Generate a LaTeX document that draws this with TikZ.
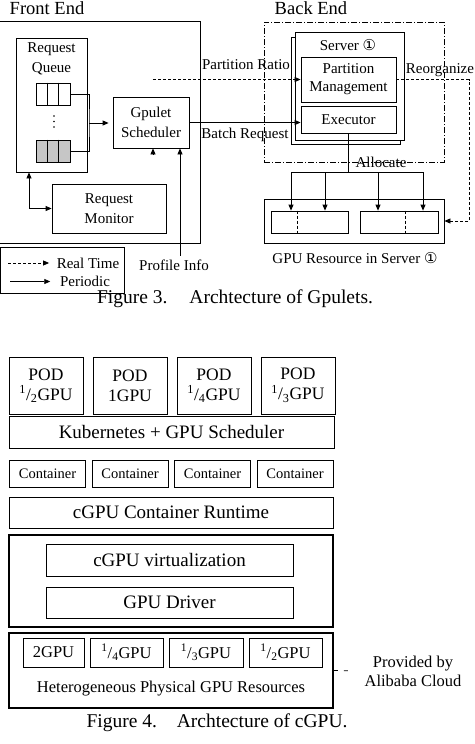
\documentclass[tikz,border=0pt]{standalone}
\usepackage{fontspec}
\setmainfont{Liberation Serif}
\newfontfamily\circfont{DejaVu Sans}
\usetikzlibrary{arrows.meta}
\newcommand{\srvone}{{\circfont\fontsize{15}{15}\selectfont\char"2460}}
\newcommand{\frc}[2]{\textsuperscript{#1}/\textsubscript{#2}}

\begin{document}
\begin{tikzpicture}[x=1pt,y=-1pt,line width=0.8pt,
    >={Triangle[length=6pt,width=5pt]},
    box/.style={draw,inner sep=0pt,align=center},
    f3/.style={font=\fontsize{15}{20}\selectfont},
    f4/.style={font=\fontsize{19}{22}\selectfont},
    rt/.style={dash pattern=on 3pt off 2pt},
    dashdot/.style={dash pattern=on 6pt off 2pt on 1pt off 2pt}]
    \fill[white] (0,0) rectangle (474,744);
    \useasboundingbox (0,0) rectangle (474,744);

    % Figure 3: front end
    \node[anchor=west,font=\fontsize{18.5}{20}\selectfont] (fetitle) at (6,8) {Front End};
    \node[box,minimum width=201,minimum height=222] (front) at (100,132) {};
    \node[box,minimum width=71,minimum height=134] (rq) at (51.5,105) {};
    \node[f3,align=center] (rqlbl) at (51.5,59) {Request\\Queue};
    \node[box,minimum width=34,minimum height=22] (qtop) at (53,94) {};
    \node[box,fill=gray!45,minimum width=34,minimum height=22] (qbot) at (53,151) {};
    \foreach \q in {qtop,qbot}
        \foreach \i in {1,2}
            \draw ([xshift=\i*11.33pt]\q.north west) -- ([xshift=\i*11.33pt]\q.south west);
    \foreach \y in {116,121.5,127}
        \fill (54,\y) circle (0.9pt);
    \coordinate (qjoin) at (89,123);
    \draw (qtop.east) -| (qjoin) |- (qbot.east);
    \node[box,f3,minimum width=76,minimum height=51] (sched) at (151,122.5) {Gpulet\\Scheduler};
    \draw[->,shorten >=4pt] (qjoin) -- (qjoin -| sched.west);
    \node[box,f3,minimum width=114,minimum height=49] (mon) at (109,208.5) {Request\\Monitor};
    \draw[<->] (rq.south -| 29,0) |- (mon.west);
    \coordinate (tick) at (153,155);
    \draw[->] (tick) -- (tick |- sched.south);
    \node[f3] (prof) at (174,265) {Profile Info};
    \draw[->] (prof.north -| 180,0) -- (sched.south -| 180,0);

    % legend
    \node[box,minimum width=124,minimum height=46] (legend) at (62,270) {};
    \node[f3] (rtlbl) at (88,263) {Real Time};
    \node[f3] (perlbl) at (85,281.5) {Periodic};
    \draw[rt,->,shorten >=4pt] (rtlbl.west -| 8,0) -- (rtlbl.west);
    \draw[->,shorten >=6pt] (perlbl.west -| 10,0) -- (perlbl.west);

    % Figure 3: back end
    \node[anchor=west,font=\fontsize{18.5}{20}\selectfont] (betitle) at (271,8) {Back End};
    \node[draw,dashdot,minimum width=180,minimum height=140] (backend) at (354,92) {};
    \node[box,minimum width=109,minimum height=107] (srvback) at (345.5,90.5) {};
    \node[box,fill=white,minimum width=109,minimum height=108] (srv) at (349.5,86) {};
    \node[f3] (srvlbl) at (348,45) {Server \srvone};
    \node[box,font=\fontsize{15}{18}\selectfont,minimum width=95,minimum height=45] (pm) at (348.5,79.5) {Partition\\Management};
    \node[box,f3,minimum width=95,minimum height=27] (exe) at (348.5,119.5) {Executor};
    \coordinate (prstart) at (153,79.5);
    \draw[rt,->] (prstart) -- (pm.west);
    \node[f3] (prlbl) at (246,65) {Partition Ratio};
    \draw[->] (sched.east) -- (sched.east -| exe.west);
    \node[f3] (brlbl) at (245,135) {Batch Request};

    \node[box,minimum width=180,minimum height=44] (gpures) at (354,221) {};
    \node[box,minimum width=77,minimum height=22] (ga) at (309.5,222) {};
    \node[box,minimum width=78,minimum height=22] (gb) at (399,222) {};
    \draw[rt] (ga.north -| 297,0) -- (ga.south -| 297,0);
    \draw[rt] (gb.north -| 405,0) -- (gb.south -| 405,0);
    \coordinate (reorg) at (469,221);
    \draw[rt,->] (pm.east) -| (reorg) -- (gpures.east);
    \node[f3] (rolbl) at (440,70) {Reorganize};

    \coordinate (split) at (exe.south |- 0,172);
    \draw (exe.south) -- (split);
    \draw (split -| 291,0) -- (split -| 423,0);
    \foreach \x/\g in {291/ga,325/ga,378/gb,423/gb}
        \draw[->] (split -| \x,0) -- (\g.north -| \x,0);
    \node[f3] (alloclbl) at (381,162) {Allocate};
    \node[f3] (reslbl) at (355,258) {GPU Resource in Server \srvone};
    \node[font=\fontsize{19.5}{22}\selectfont] (cap3) at (235,299) {Figure 3.\hspace{22pt}Archtecture of Gpulets.};

    % Figure 4
    \foreach \x/\n/\t in {46/1/{\frc12GPU},130/2/1GPU,214/3/{\frc14GPU},298/4/{\frc13GPU}}
        \node[box,font=\fontsize{17.5}{20}\selectfont,minimum width=74,minimum height=57] (pod\n) at (\x,385.5) {POD\\\t};
    \node[box,f4,minimum width=325,minimum height=32] (k8s) at (171.5,432) {Kubernetes + GPU Scheduler};
    \foreach \x [count=\i] in {47.5,130,212.5,295}
        \node[box,font=\fontsize{14.5}{16}\selectfont,minimum width=76,minimum height=27] (ctr\i) at (\x,473.5) {Container};
    \node[box,f4,minimum width=324,minimum height=31] (rtm) at (171,512.5) {cGPU Container Runtime};
    \node[box,line width=1.8pt,minimum width=324,minimum height=92] (virtbox) at (171,581) {};
    \node[box,f4,minimum width=247,minimum height=32] (virt) at (169.5,560) {cGPU virtualization};
    \node[box,f4,minimum width=247,minimum height=31] (drv) at (169.5,602.5) {GPU Driver};
    \node[box,line width=1.8pt,minimum width=324,minimum height=75] (het) at (171,670.5) {};
    \foreach \x/\w/\t [count=\i] in {53.5/61/2GPU,126.5/73/{\frc14GPU},206/74/{\frc13GPU},285.5/73/{\frc12GPU}}
        \node[box,font=\fontsize{16.5}{18}\selectfont,minimum width=\w,minimum height=29] (phy\i) at (\x,652.5) {\t};
    \node[font=\fontsize{16.5}{18}\selectfont] (hetlbl) at (171,689) {Heterogeneous Physical GPU Resources};
    \node[font=\fontsize{16.5}{19}\selectfont,align=center] (prov) at (413,671) {Provided by\\Alibaba Cloud};
    \draw[dash pattern=on 4pt off 6pt,shorten >=10pt] (het.east) -- (prov.west);
    \node[font=\fontsize{19.5}{22}\selectfont] (cap4) at (217,723) {Figure 4.\hspace{20pt}Archtecture of cGPU.};
\end{tikzpicture}
\end{document}
